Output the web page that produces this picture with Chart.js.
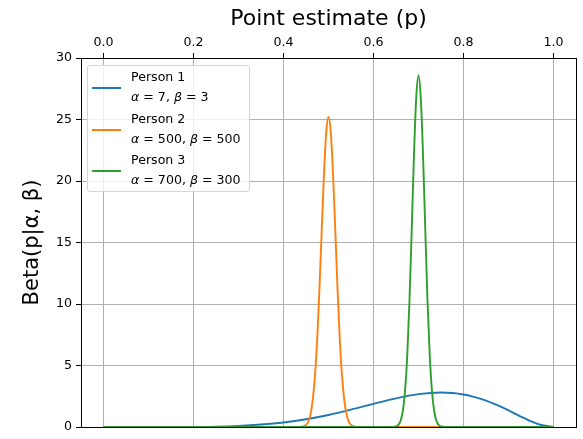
<!DOCTYPE html>
<html><head><meta charset="utf-8">
<script src="https://cdn.jsdelivr.net/npm/chart.js@4/dist/chart.umd.min.js"></script>
<style>
html,body{margin:0;padding:0;background:#fff;}
#wrap{position:relative;width:583px;height:439px;}
#legend{position:absolute;left:87px;top:65px;width:163px;height:127px;border:1px solid #d5d5d5;border-radius:3px;background:rgba(255,255,255,0.8);font-family:'DejaVu Sans';font-size:12.6px;color:#000;box-sizing:border-box;}
.item{position:absolute;left:0;width:100%;height:41px;}
.sw{position:absolute;left:4px;top:21px;width:29px;height:0;border-top:2px solid;}
.txt{position:absolute;left:43px;top:1px;line-height:20px;white-space:nowrap;}
</style></head>
<body><div id="wrap"><canvas id="c" width="583" height="439"></canvas><div id="legend"></div></div>
<script>
// ---- data ----
const seriesNames = ['Person 1', 'Person 2', 'Person 3'];
const alphaVals = [7, 500, 700];
const betaVals = [3, 500, 300];
const seriesColors = ['#1f77b4', '#ff7f0e', '#2ca02c'];

const xTicks = [0.0, 0.2, 0.4, 0.6, 0.8, 1.0];
const yTicks = [0, 5, 10, 15, 20, 25, 30];

const p1X = [0, 0.1, 0.2, 0.25, 0.3, 0.35, 0.4, 0.45, 0.5, 0.55, 0.6, 0.65, 0.7, 0.75, 0.775, 0.8, 0.825, 0.85, 0.875, 0.9, 0.925, 0.95, 0.975, 1.0];
const p1Y = [0, 0, 0.01, 0.03, 0.09, 0.2, 0.37, 0.63, 0.98, 1.41, 1.88, 2.33, 2.67, 2.80, 2.76, 2.64, 2.43, 2.15, 1.77, 1.35, 0.89, 0.46, 0.14, 0];

const p2X = [0, 0.43, 0.44, 0.45, 0.455, 0.46, 0.465, 0.47, 0.475, 0.48, 0.485, 0.49, 0.495, 0.5,
             0.505, 0.51, 0.515, 0.52, 0.525, 0.53, 0.535, 0.54, 0.545, 0.55, 0.56, 0.57, 1.0];
const p2Y = [0, 0, 0.02, 0.17, 0.44, 1.03, 2.2, 4.2, 7.2, 11.3, 16.1, 20.6, 24.0, 25.2,
             24.0, 20.6, 16.1, 11.3, 7.2, 4.2, 2.2, 1.03, 0.44, 0.17, 0.02, 0, 0];

const p3X = [0, 0.63, 0.64, 0.65, 0.655, 0.66, 0.665, 0.67, 0.675, 0.68, 0.685, 0.69, 0.695, 0.7,
             0.705, 0.71, 0.715, 0.72, 0.725, 0.73, 0.735, 0.74, 0.745, 0.75, 0.76, 0.77, 1.0];
const p3Y = [0, 0, 0.01, 0.05, 0.16, 0.48, 1.26, 2.9, 5.8, 10.3, 16.1, 22.2, 26.8, 28.6,
             26.8, 22.2, 16.1, 10.3, 5.8, 2.9, 1.26, 0.48, 0.16, 0.05, 0.01, 0, 0];

const xTitle = 'Point estimate (p)';
const yTitle = 'Beta(p|α, β)';
// ------------------------------------------------

const FAM = "'DejaVu Sans', sans-serif";
const seriesX = [p1X, p2X, p3X];
const seriesY = [p1Y, p2Y, p3Y];

const datasets = seriesNames.map((name, i) => ({
  label: name,
  data: seriesX[i].map((x, j) => ({x: x, y: seriesY[i][j]})),
  borderColor: seriesColors[i],
  backgroundColor: seriesColors[i],
  borderWidth: 1.9,
  pointRadius: 0,
  fill: false,
  cubicInterpolationMode: 'monotone',
  order: seriesNames.length - i
}));

const frame = {
  id: 'frame',
  afterDraw(chart) {
    const {ctx, chartArea: a} = chart;
    ctx.save();
    ctx.strokeStyle = '#000';
    ctx.lineWidth = 1;
    ctx.strokeRect(Math.round(a.left) + 0.5, Math.round(a.top) + 0.5,
                   Math.round(a.right) - Math.round(a.left), Math.round(a.bottom) - Math.round(a.top));
    ctx.restore();
  }
};

new Chart(document.getElementById('c'), {
  type: 'line',
  data: {datasets: datasets},
  options: {
    responsive: false,
    animation: false,
    events: [],
    layout: {padding: {left: 0, top: 0, right: 7, bottom: 12}},
    plugins: {legend: {display: false}, tooltip: {enabled: false}},
    scales: {
      x: {
        type: 'linear', position: 'top', min: -0.05, max: 1.05,
        afterBuildTicks: s => { s.ticks = xTicks.map(v => ({value: v})); },
        afterFit: s => { s.height = 58; },
        ticks: {callback: v => Number(v).toFixed(1), font: {family: FAM, size: 12.6}, color: '#000', padding: 3, maxRotation: 0, autoSkip: false},
        grid: {color: '#b0b0b0', lineWidth: 1, tickColor: '#000', tickLength: 5},
        border: {display: false},
        title: {display: true, text: xTitle, font: {family: FAM, size: 22}, color: '#000', padding: {top: 6, bottom: 0}}
      },
      y: {
        type: 'linear', min: 0, max: 30,
        afterBuildTicks: s => { s.ticks = yTicks.map(v => ({value: v})); },
        afterFit: s => { s.width = 81; },
        ticks: {font: {family: FAM, size: 12.6}, color: '#000', padding: 4, autoSkip: false},
        grid: {color: '#b0b0b0', lineWidth: 1, tickColor: '#000', tickLength: 5},
        border: {display: false},
        title: {display: true, text: yTitle, font: {family: FAM, size: 21}, color: '#000', padding: {top: 20, bottom: 0}}
      }
    }
  },
  plugins: [frame]
});

// legend built from the data arrays
const lg = document.getElementById('legend');
seriesNames.forEach((name, i) => {
  const it = document.createElement('div');
  it.className = 'item';
  it.style.top = (i * 41.5) + 'px';
  const sw = document.createElement('div');
  sw.className = 'sw';
  sw.style.borderTopColor = seriesColors[i];
  const tx = document.createElement('div');
  tx.className = 'txt';
  tx.innerHTML = name + '<br><i>α</i> = ' + alphaVals[i] + ', <i>β</i> = ' + betaVals[i];
  it.appendChild(sw); it.appendChild(tx);
  lg.appendChild(it);
});
</script>
</body></html>
